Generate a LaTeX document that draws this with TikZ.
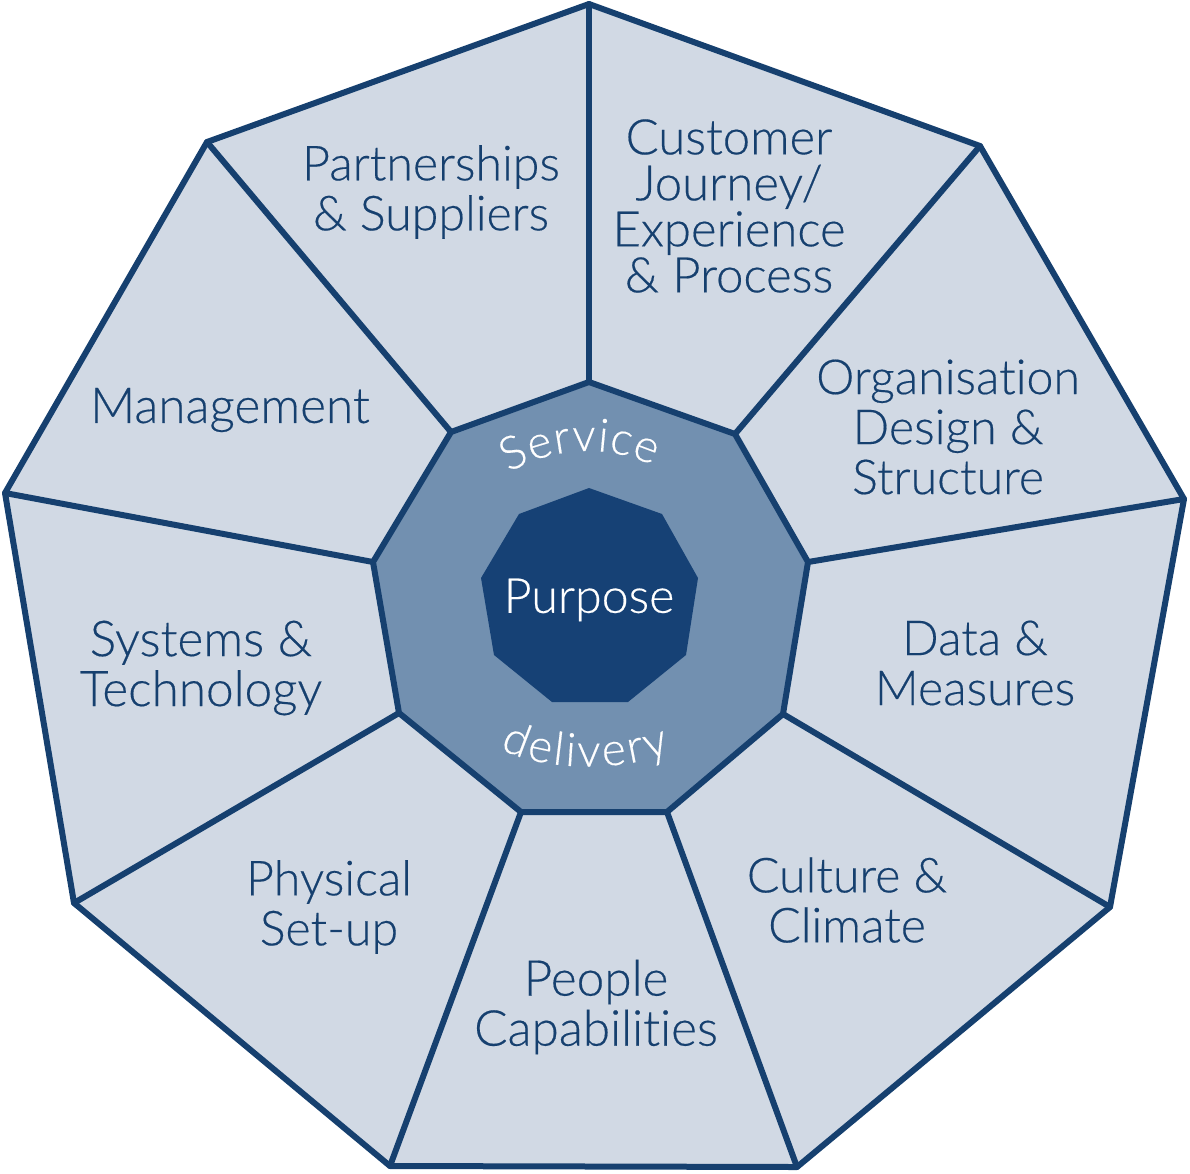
\documentclass[tikz,border=0pt]{standalone}
\usepackage{fontspec}
\setmainfont{Lato Light}[Ligatures=NoCommon,FakeBold=0.35]
\usetikzlibrary{decorations.text}
\definecolor{edge}{HTML}{16406F}
\definecolor{pale}{HTML}{D1D9E4}
\definecolor{mid}{HTML}{7290B0}
\definecolor{deep}{HTML}{164175}
\tikzset{
  seg/.style={draw=edge,line width=6pt,line join=round,line cap=round,fill=pale},
  spoke/.style={draw=edge,line width=6pt,line cap=round},
  lab/.style={text=edge,font=\fontsize{48.3}{50}\selectfont,align=center,inner sep=0pt},
  labwide/.style={lab,font=\fontsize{49.5}{50}\selectfont},
  arcword/.style 2 args={decorate,decoration={text effects along path,text={#1},text align=center,
    text effects/.cd,
    character widths={font=\fontsize{46}{48}\selectfont,inner xsep=#2},
    characters={text=white,font=\fontsize{46}{48}\selectfont,inner xsep=#2,anchor=base,transform shape}}},
}
\begin{document}
\begin{tikzpicture}[x=1pt,y=-1pt]
\useasboundingbox (0,0) rectangle (1190,1173);
\coordinate (o1) at (589,4);
\coordinate (o2) at (980,146);
\coordinate (o3) at (1184,499);
\coordinate (o4) at (1110,907);
\coordinate (o5) at (797,1167);
\coordinate (o6) at (390,1166);
\coordinate (o7) at (74,903);
\coordinate (o8) at (5,493);
\coordinate (o9) at (207,142);
\coordinate (i1) at (589,382);
\coordinate (i2) at (735,434);
\coordinate (i3) at (808,562);
\coordinate (i4) at (783,714);
\coordinate (i5) at (667,812);
\coordinate (i6) at (521,812);
\coordinate (i7) at (399,713);
\coordinate (i8) at (373,562);
\coordinate (i9) at (451,432);
\draw[seg] (o1)--(o2)--(o3)--(o4)--(o5)--(o6)--(o7)--(o8)--(o9)--cycle;
\draw[seg,fill=mid] (i1)--(i2)--(i3)--(i4)--(i5)--(i6)--(i7)--(i8)--(i9)--cycle;
\foreach \k in {1,...,9} \draw[spoke] (i\k)--(o\k);
\fill[deep] (589,488)--(662,514)--(698,578)--(686,655)--(628,702)--(552,702)--(494,655)--(481,578)--(519,514)--cycle;
\node[lab,font=\fontsize{49}{46}\selectfont] (l1) at (729,206) {Customer\\Journey/\\Experience\\\& Process};
\node[lab] (l2) at (431,192) {Partnerships\\\& Suppliers};
\node[lab] (l3) at (948,427) {Organisation\\Design \&\\Structure};
\node[labwide] (l4) at (230,410) {Management};
\node[lab] (l5) at (975,663) {Data \&\\Measures};
\node[labwide] (l6) at (201,668) {Systems \&\\Technology};
\node[lab] (l7) at (847,900) {Culture \&\\Climate};
\node[lab] (l8) at (329,907) {Physical\\Set-up};
\node[labwide] (l9) at (596,1007) {People\\Capabilities};
\node[lab,text=white] (p) at (589,600) {Purpose};
\path[arcword={Service}{0.5pt}]
  (500,478) .. controls (550,445) and (610,442) .. (662,470);
\path[arcword={delivery}{1.3pt}]
  (498,748) .. controls (545,772) and (620,772) .. (672,752);
\end{tikzpicture}
\end{document}
